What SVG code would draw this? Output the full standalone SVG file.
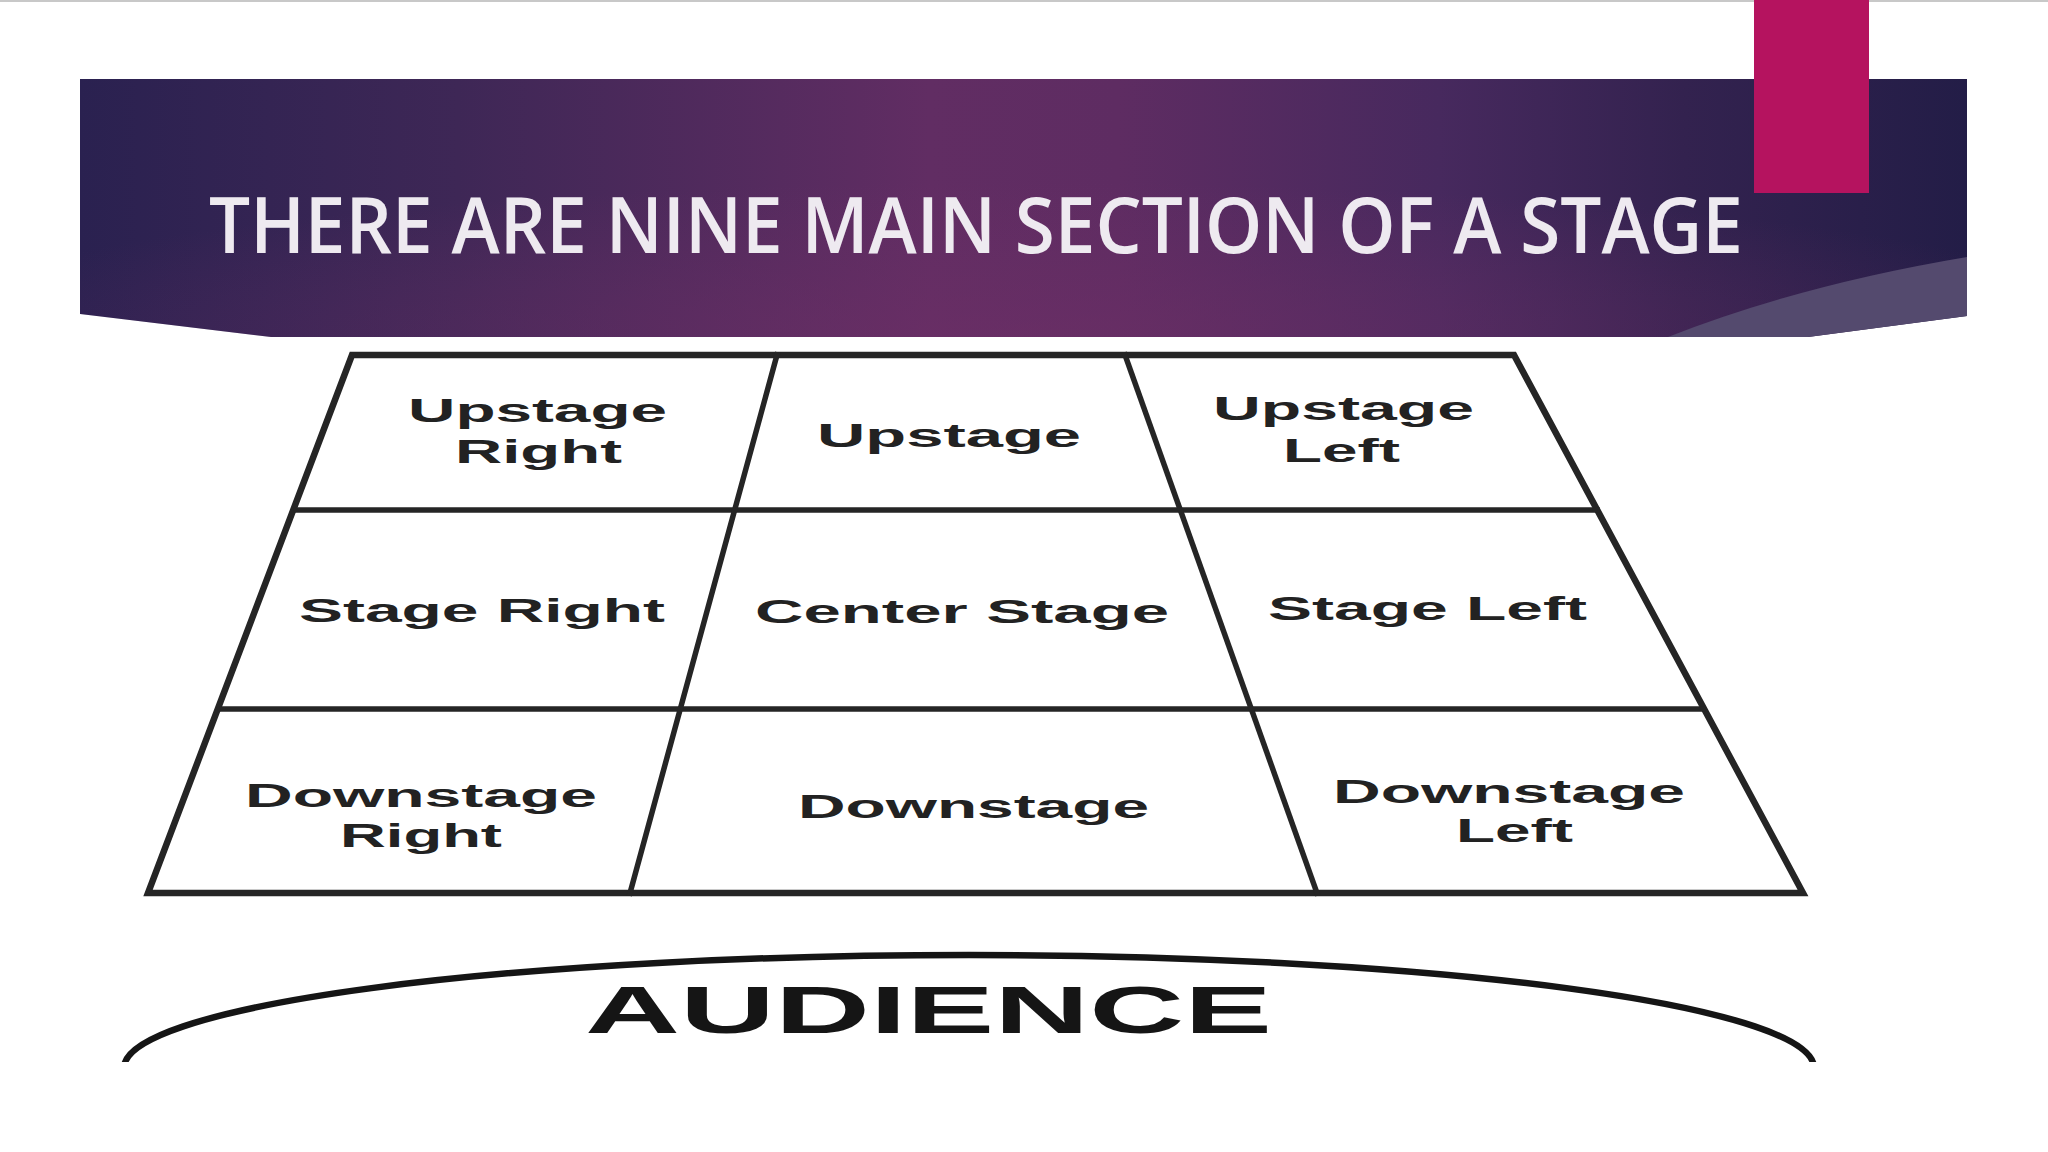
<svg xmlns="http://www.w3.org/2000/svg" width="2048" height="1152" viewBox="0 0 2048 1152">
  <defs>
    <linearGradient id="bannerGrad" x1="0" y1="0" x2="1" y2="0">
      <stop offset="0" stop-color="#2a2150"/>
      <stop offset="0.2" stop-color="#3e2756"/>
      <stop offset="0.45" stop-color="#612d63"/>
      <stop offset="0.55" stop-color="#5e2c62"/>
      <stop offset="0.72" stop-color="#47295e"/>
      <stop offset="0.85" stop-color="#33224f"/>
      <stop offset="1" stop-color="#231d47"/>
    </linearGradient>
    <radialGradient id="glow" cx="0.5" cy="1" r="0.6">
      <stop offset="0" stop-color="#6d2f66" stop-opacity="0.6"/>
      <stop offset="1" stop-color="#6d2f66" stop-opacity="0"/>
    </radialGradient>
    <clipPath id="imgClip">
      <rect x="0" y="0" width="2048" height="1062"/>
    </clipPath>
    <style>
      .grid { stroke: #252525; stroke-width: 5.5; fill: none; stroke-linecap: square; }
      .outer { stroke: #252525; stroke-width: 6.5; fill: #ffffff; stroke-linejoin: miter; }
      .lbl { font-family: "Liberation Sans", Arial, sans-serif; font-weight: bold; font-size: 33px; fill: #222222; }
      .title { font-family: "Open Sans", "Liberation Sans", sans-serif; font-weight: 600; font-size: 78px; fill: #eeeaf0; }
    </style>
  </defs>

  <rect width="2048" height="1152" fill="#ffffff"/>
  <line x1="0" y1="1" x2="2048" y2="1" stroke="#c8c8c8" stroke-width="2"/>

  <g id="banner">
    <path d="M80,79 H1967 V316 L1808,337 H271 L80,314 Z" fill="url(#bannerGrad)"/>
    <path d="M80,79 H1967 V316 L1808,337 H271 L80,314 Z" fill="url(#glow)"/>
    <path d="M1668,337 Q1800,285 1967,257 V316 L1808,337 Z" fill="#544a6e"/>
    <rect x="1754" y="0" width="115" height="193" fill="#b5135f"/>
    <text class="title" x="209" y="253" textLength="1534" lengthAdjust="spacingAndGlyphs">THERE ARE NINE MAIN SECTION OF A STAGE</text>
  </g>

  <g id="stage">
    <path class="outer" d="M352,355 L1514,355 L1803,893 L148,893 Z"/>
  </g>

  <g id="connectors">
    <line class="grid" x1="296" y1="510" x2="1597" y2="510"/>
    <line class="grid" x1="222" y1="709" x2="1703" y2="709"/>
    <line class="grid" x1="777" y1="355" x2="630" y2="893"/>
    <line class="grid" x1="1125" y1="355" x2="1317" y2="893"/>
  </g>

  <g id="upstage-right">
    <text class="lbl" x="408" y="422" textLength="259" lengthAdjust="spacingAndGlyphs">Upstage</text>
    <text class="lbl" x="455" y="463" textLength="167" lengthAdjust="spacingAndGlyphs">Right</text>
  </g>
  <g id="upstage">
    <text class="lbl" x="817" y="447" textLength="264" lengthAdjust="spacingAndGlyphs">Upstage</text>
  </g>
  <g id="upstage-left">
    <text class="lbl" x="1213" y="420" textLength="261" lengthAdjust="spacingAndGlyphs">Upstage</text>
    <text class="lbl" x="1283" y="462" textLength="117" lengthAdjust="spacingAndGlyphs">Left</text>
  </g>
  <g id="stage-right">
    <text class="lbl" x="299" y="622" textLength="366" lengthAdjust="spacingAndGlyphs">Stage Right</text>
  </g>
  <g id="center-stage">
    <text class="lbl" x="755" y="623" textLength="414" lengthAdjust="spacingAndGlyphs">Center Stage</text>
  </g>
  <g id="stage-left">
    <text class="lbl" x="1268" y="620" textLength="319" lengthAdjust="spacingAndGlyphs">Stage Left</text>
  </g>
  <g id="downstage-right">
    <text class="lbl" x="245" y="807" textLength="352" lengthAdjust="spacingAndGlyphs">Downstage</text>
    <text class="lbl" x="340" y="847" textLength="162" lengthAdjust="spacingAndGlyphs">Right</text>
  </g>
  <g id="downstage">
    <text class="lbl" x="798" y="818" textLength="351" lengthAdjust="spacingAndGlyphs">Downstage</text>
  </g>
  <g id="downstage-left">
    <text class="lbl" x="1333" y="803" textLength="352" lengthAdjust="spacingAndGlyphs">Downstage</text>
    <text class="lbl" x="1456" y="842" textLength="117" lengthAdjust="spacingAndGlyphs">Left</text>
  </g>

  <g id="audience">
    <ellipse cx="969" cy="1068" rx="845" ry="113" fill="none" stroke="#151515" stroke-width="6.5" clip-path="url(#imgClip)"/>
    <text x="585" y="1033" font-family="Liberation Sans, Arial, sans-serif" font-weight="bold" font-size="67" fill="#151515" textLength="687" lengthAdjust="spacingAndGlyphs">AUDIENCE</text>
  </g>
</svg>
